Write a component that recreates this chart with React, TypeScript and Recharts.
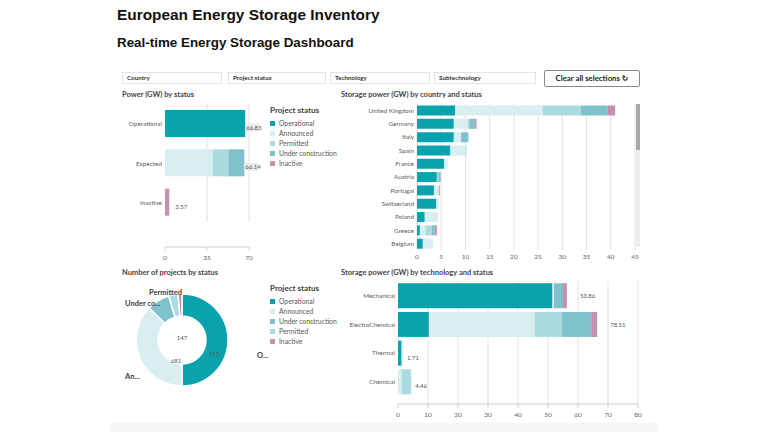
import React from 'react'
import { BarChart, Bar, XAxis, YAxis, CartesianGrid, LabelList, PieChart, Pie, Cell } from 'recharts'

// Power (GW) by status
const statusCategories = ['Operational', 'Expected', 'Inactive']
const statusOperational = [66.83, 0, 0]
const statusAnnounced = [0, 39.8, 0]
const statusPermitted = [0, 13.0, 0]
const statusUnderConstruction = [0, 13.34, 0]
const statusInactive = [0, 0, 3.57]
const statusTicks = [0, 35, 70]

// Storage power (GW) by country and status
const countries = ['United Kingdom', 'Germany', 'Italy', 'Spain', 'France', 'Austria', 'Portugal', 'Switzerland', 'Poland', 'Greece', 'Belgium']
const countryOperational = [7.9, 7.6, 7.6, 6.9, 5.6, 4.1, 3.5, 4.0, 1.6, 0.6, 1.2]
const countryAnnounced = [18.0, 2.9, 1.5, 3.1, 0.7, 0, 1.0, 0.5, 2.7, 1.2, 2.1]
const countryPermitted = [7.9, 0.3, 0, 0.2, 0, 0.3, 0, 0, 0, 1.2, 0]
const countryUnderConstruction = [5.6, 1.2, 1.5, 0, 0, 0.5, 0, 0, 0, 0.6, 0]
const countryInactive = [1.5, 0.3, 0, 0, 0, 0, 0.2, 0, 0, 0.5, 0]
const countryTicks = [0, 5, 10, 15, 20, 25, 30, 35, 40, 45]

// Number of projects by status
const projectStatusNames = ['Operational', 'Announced', 'Under construction', 'Permitted', 'Inactive']
const projectCounts = [913, 681, 147, 60, 25]

// Storage power (GW) by technology and status
const technologies = ['Mechanical', 'ElectroChemical', 'Thermal', 'Chemical']
const techOperational = [51.5, 10.3, 1.2, 0]
const techAnnounced = [0.5, 35.2, 0.5, 1.2]
const techPermitted = [0, 9.2, 0, 3.2]
const techUnderConstruction = [3.0, 9.7, 0, 0]
const techInactive = [1.3, 2.0, 0, 0]
const techTotalLabels = ['53.86', '78.51', '1.71', '4.46']
const techTicks = [0, 10, 20, 30, 40, 50, 60, 70, 80]

const filters = ['Country', 'Project status', 'Technology', 'Subtechnology']

const COLORS: Record<string, string> = {
  Operational: '#0aa2ac',
  Announced: '#d8eef1',
  Permitted: '#a9dbe1',
  'Under construction': '#80c2cc',
  Inactive: '#c691ad',
}

const FONT = 'Lato, "Open Sans", sans-serif'
const TICK = { fontSize: 6.5, fill: '#666', fontFamily: FONT }

const sumRow = (d: any) => d.op + d.ann + d.perm + d.uc + d.inact

const statusData = statusCategories.map((name, i) => {
  const d: any = {
    name,
    op: statusOperational[i],
    ann: statusAnnounced[i],
    perm: statusPermitted[i],
    uc: statusUnderConstruction[i],
    inact: statusInactive[i],
  }
  d.total = sumRow(d)
  return d
})

const countryData = countries.map((name, i) => ({
  name,
  op: countryOperational[i],
  ann: countryAnnounced[i],
  perm: countryPermitted[i],
  uc: countryUnderConstruction[i],
  inact: countryInactive[i],
}))

const techData = technologies.map((name, i) => {
  const d: any = {
    name,
    op: techOperational[i],
    ann: techAnnounced[i],
    perm: techPermitted[i],
    uc: techUnderConstruction[i],
    inact: techInactive[i],
  }
  d.total = sumRow(d)
  return d
})

const pieData = projectStatusNames.map((name, i) => ({ name, value: projectCounts[i] }))

// where Qlik put the donut texts
const pieNameLabels: Record<string, { text: string; dx: number; dy: number }> = {
  Operational: { text: 'O...', dx: 75, dy: 15 },
  Announced: { text: 'An...', dx: -57, dy: 36 },
  'Under construction': { text: 'Under co...', dx: -57, dy: -37 },
  Permitted: { text: 'Permitted', dx: -33, dy: -48 },
}
const pieValueLabels: Record<string, { dx: number; dy: number }> = {
  Operational: { dx: 32, dy: 13 },
  Announced: { dx: -6, dy: 20 },
  'Under construction': { dx: 0, dy: -3 },
}

const seriesKeys = [
  { key: 'op', name: 'Operational' },
  { key: 'ann', name: 'Announced' },
  { key: 'perm', name: 'Permitted' },
  { key: 'uc', name: 'Under construction' },
  { key: 'inact', name: 'Inactive' },
]

function PanelTitle({ x, y, children }: { x: number; y: number; children: React.ReactNode }) {
  return (
    <div style={{ position: 'absolute', left: x, top: y, fontSize: 7.5, fontWeight: 700, color: '#454545', fontFamily: FONT, whiteSpace: 'nowrap' }}>
      {children}
    </div>
  )
}

function StatusLegend({ x, y, items }: { x: number; y: number; items: string[] }) {
  return (
    <div style={{ position: 'absolute', left: x, top: y, fontFamily: FONT }}>
      <div style={{ fontSize: 8, color: '#404040', fontWeight: 700, marginBottom: 3, whiteSpace: 'nowrap' }}>Project status</div>
      {items.map((it) => (
        <div key={it} style={{ display: 'flex', alignItems: 'center', height: 10, fontSize: 6.8, color: '#595959', whiteSpace: 'nowrap' }}>
          <span style={{ width: 5, height: 5, background: COLORS[it], marginRight: 4 }} />
          {it}
        </div>
      ))}
    </div>
  )
}

function CategoryTick(props: any) {
  const { x, y, payload } = props
  return (
    <text x={x} y={y} textAnchor="end" dominantBaseline="central" fontSize={6.4} fill="#606060" fontFamily={FONT}>
      {payload.value}
    </text>
  )
}

function StatusTotalLabel(props: any) {
  const { x, y, width, height, value } = props
  const end = x + width
  const cy = y + height / 2 + 4
  const boxed = value > 50
  return (
    <g>
      {boxed && <rect x={end} y={cy - 4} width={14} height={8} fill="#eaeaea" />}
      <text x={boxed ? end + 1 : end + 6} y={cy} dominantBaseline="central" fontSize={6} fill="#555" fontFamily={FONT}>
        {Number(value).toFixed(2)}
      </text>
    </g>
  )
}

function TechTotalLabel(props: any) {
  const { x, y, width, height, index } = props
  const end = x + width
  const gap = width > 100 ? 13 : 4
  return (
    <text x={end + gap} y={y + height / 2 + (width > 100 ? 0 : 4)} dominantBaseline="central" fontSize={6} fill="#555" fontFamily={FONT}>
      {techTotalLabels[index]}
    </text>
  )
}

function renderPieLabel(props: any) {
  const { cx, cy, name, value } = props
  const n = pieNameLabels[name]
  const v = pieValueLabels[name]
  return (
    <g>
      {n && (
        <text x={cx + n.dx} y={cy + n.dy} dominantBaseline="central" fontSize={7.5} fontWeight={700} fill="#404040" fontFamily={FONT}>
          {n.text}
        </text>
      )}
      {v && (
        <text x={cx + v.dx} y={cy + v.dy} textAnchor="middle" dominantBaseline="central" fontSize={6} fill="#555" fontFamily={FONT}>
          {value}
        </text>
      )}
    </g>
  )
}

function shortGrid(cut: number, skipFirst: boolean) {
  return (p: any) => {
    if (skipFirst && p.index === 0) return <g key={p.key} />
    return <line key={p.key} x1={p.x1} x2={p.x2} y1={p.y1} y2={p.y2 - cut} stroke="#e2e2e2" strokeWidth={1} />
  }
}

export default function App() {
  return (
    <div style={{ position: 'absolute', left: 0, top: 0, width: 768, height: 432, background: '#fff', overflow: 'hidden' }}>
      <div style={{ position: 'absolute', left: 117, top: 6, fontFamily: '"Liberation Sans", Arial, sans-serif', fontWeight: 700, fontSize: 15.4, color: '#111', whiteSpace: 'nowrap' }}>
        European Energy Storage Inventory
      </div>
      <div style={{ position: 'absolute', left: 117, top: 35, fontFamily: '"Liberation Sans", Arial, sans-serif', fontWeight: 700, fontSize: 13.4, color: '#111', whiteSpace: 'nowrap' }}>
        Real-time Energy Storage Dashboard
      </div>

      {/* filter bar */}
      {filters.map((f, i) => (
        <div
          key={f}
          style={{
            position: 'absolute',
            left: [122, 228, 330, 434][i],
            top: 72,
            width: [100, 98, 100, 102][i],
            height: 12,
            border: '1px solid #e3e3e3',
            boxSizing: 'border-box',
            fontFamily: FONT,
            fontSize: 6.3,
            fontWeight: 700,
            color: '#333',
            paddingLeft: 4,
            lineHeight: '10px',
          }}
        >
          {f}
        </div>
      ))}
      <div
        style={{
          position: 'absolute',
          left: 544,
          top: 70,
          width: 96,
          height: 17,
          border: '1px solid #8a8a8a',
          borderRadius: 2,
          boxSizing: 'border-box',
          fontFamily: FONT,
          fontSize: 7.8,
          fontWeight: 700,
          color: '#222',
          textAlign: 'center',
          lineHeight: '15px',
          whiteSpace: 'nowrap',
        }}
      >
        Clear all selections <span style={{ fontFamily: '"DejaVu Sans"', fontWeight: 700 }}>↻</span>
      </div>

      {/* Power by status */}
      <PanelTitle x={122} y={90}>Power (GW) by status</PanelTitle>
      <div style={{ position: 'absolute', left: 110, top: 100 }}>
        <BarChart width={160} height={165} data={statusData} layout="vertical" margin={{ top: 4, right: 21, bottom: 0, left: 0 }} barSize={27}>
          <CartesianGrid horizontal={false} vertical={shortGrid(25, true)} />
          <XAxis type="number" domain={[0, 70]} ticks={statusTicks} tick={TICK} height={18} stroke="#cfcfcf" tickSize={4} tickMargin={4} />
          <YAxis type="category" dataKey="name" width={55} tick={CategoryTick} tickLine={false} axisLine={false} tickSize={0} tickMargin={3} padding={{ top: 0, bottom: 25 }} />
          <YAxis yAxisId="t" type="category" dataKey="name" hide padding={{ top: 0, bottom: 25 }} />
          {seriesKeys.map((s) => (
            <Bar key={s.key} dataKey={s.key} stackId="a" fill={COLORS[s.name]} isAnimationActive={false} />
          ))}
          <Bar yAxisId="t" dataKey="total" fill="none" isAnimationActive={false}>
            <LabelList dataKey="total" content={StatusTotalLabel} />
          </Bar>
        </BarChart>
      </div>
      <StatusLegend x={270} y={105} items={['Operational', 'Announced', 'Permitted', 'Under construction', 'Inactive']} />

      {/* Storage power by country */}
      <PanelTitle x={341} y={90}>Storage power (GW) by country and status</PanelTitle>
      <div style={{ position: 'absolute', left: 340, top: 100 }}>
        <BarChart width={305} height={165} data={countryData} layout="vertical" margin={{ top: 3.5, right: 10, bottom: 0, left: 0 }} barSize={10}>
          <CartesianGrid horizontal={false} stroke="#e2e2e2" />
          <XAxis type="number" domain={[0, 45]} ticks={countryTicks} tick={TICK} height={15} axisLine={false} tickLine={false} tickSize={0} tickMargin={4} />
          <YAxis type="category" dataKey="name" width={77} tick={CategoryTick} tickLine={false} axisLine={false} tickSize={0} tickMargin={3} interval={0} />
          {seriesKeys.map((s) => (
            <Bar key={s.key} dataKey={s.key} stackId="a" fill={COLORS[s.name]} isAnimationActive={false} />
          ))}
        </BarChart>
      </div>
      <div style={{ position: 'absolute', left: 636, top: 104, width: 4, height: 143, background: '#ececec' }} />
      <div style={{ position: 'absolute', left: 636, top: 104, width: 4, height: 46, background: '#a8a8a8' }} />

      {/* Number of projects by status */}
      <PanelTitle x={122} y={268}>Number of projects by status</PanelTitle>
      <div style={{ position: 'absolute', left: 120, top: 285 }}>
        <PieChart width={160} height={110} margin={{ top: 0, right: 0, bottom: 0, left: 0 }}>
          <Pie
            data={pieData}
            dataKey="value"
            nameKey="name"
            cx={62}
            cy={55}
            innerRadius={24}
            outerRadius={46}
            startAngle={90}
            endAngle={-270}
            stroke="#fff"
            strokeWidth={1.5}
            label={renderPieLabel}
            labelLine={false}
            isAnimationActive={false}
          >
            {pieData.map((d) => (
              <Cell key={d.name} fill={COLORS[d.name]} />
            ))}
          </Pie>
        </PieChart>
      </div>
      <StatusLegend x={270} y={283} items={['Operational', 'Announced', 'Under construction', 'Permitted', 'Inactive']} />

      {/* Storage power by technology */}
      <PanelTitle x={341} y={268}>Storage power (GW) by technology and status</PanelTitle>
      <div style={{ position: 'absolute', left: 340, top: 278 }}>
        <BarChart width={306} height={144} data={techData} layout="vertical" margin={{ top: 3.25, right: 8, bottom: 0, left: 0 }} barSize={25}>
          <CartesianGrid horizontal={false} vertical={shortGrid(0, true)} />
          <XAxis type="number" domain={[0, 80]} ticks={techTicks} tick={TICK} height={18} stroke="#cfcfcf" tickSize={4} tickMargin={4} />
          <YAxis type="category" dataKey="name" width={58} tick={CategoryTick} tickLine={false} axisLine={false} tickSize={0} tickMargin={3} padding={{ top: 0, bottom: 8 }} />
          <YAxis yAxisId="t" type="category" dataKey="name" hide padding={{ top: 0, bottom: 8 }} />
          {seriesKeys.map((s) => (
            <Bar key={s.key} dataKey={s.key} stackId="a" fill={COLORS[s.name]} isAnimationActive={false} />
          ))}
          <Bar yAxisId="t" dataKey="total" fill="none" isAnimationActive={false}>
            <LabelList dataKey="total" content={TechTotalLabel} />
          </Bar>
        </BarChart>
      </div>

      <div style={{ position: 'absolute', left: 110, top: 423, width: 548, height: 9, background: '#f6f6f6' }} />
    </div>
  )
}
